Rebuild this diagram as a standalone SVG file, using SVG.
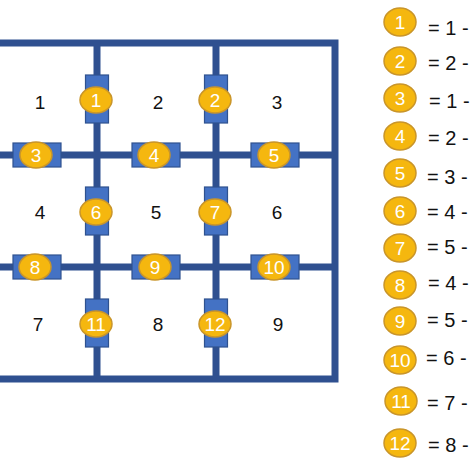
<svg xmlns="http://www.w3.org/2000/svg" width="474" height="474" viewBox="0 0 474 474">
<style>
.ln{stroke:#2F5090;stroke-width:7;fill:none}
.rc{fill:#4472C4;stroke:#2F528F;stroke-width:1.2}
.bd{fill:#F5B70F;stroke:#C9952A;stroke-width:1.5}
.bt{font-family:"Liberation Sans",Arial,sans-serif;font-size:19px;fill:#FFFFFF;text-anchor:middle}
.cn{font-family:"Liberation Sans",Arial,sans-serif;font-size:19px;fill:#111111;text-anchor:middle}
.lg{font-family:"Liberation Sans",Arial,sans-serif;font-size:20px;fill:#111111}
</style>
<rect width="474" height="474" fill="#FFFFFF"/>
<g id="connectors">
<rect class="ln" x="-22" y="43" width="357" height="336"/>
<line class="ln" x1="97" y1="43" x2="97" y2="379"/>
<line class="ln" x1="216" y1="43" x2="216" y2="379"/>
<line class="ln" x1="-22" y1="155" x2="335" y2="155"/>
<line class="ln" x1="-22" y1="267" x2="335" y2="267"/>
</g>
<g id="cells">
<text class="cn" x="40" y="109">1</text>
<text class="cn" x="158" y="109">2</text>
<text class="cn" x="277" y="109">3</text>
<text class="cn" x="40" y="219">4</text>
<text class="cn" x="156" y="219">5</text>
<text class="cn" x="277" y="219">6</text>
<text class="cn" x="38" y="331">7</text>
<text class="cn" x="158" y="331">8</text>
<text class="cn" x="278" y="331">9</text>
</g>
<g id="door1"><rect class="rc" x="85.5" y="75" width="23" height="48"/><ellipse class="bd" cx="96" cy="100" rx="16" ry="13"/><text class="bt" x="96" y="107">1</text></g>
<g id="door2"><rect class="rc" x="204.5" y="75" width="23" height="48"/><ellipse class="bd" cx="215" cy="100" rx="16" ry="13"/><text class="bt" x="215" y="107">2</text></g>
<g id="door3"><rect class="rc" x="13" y="143" width="48" height="24"/><ellipse class="bd" cx="36" cy="155" rx="16" ry="13"/><text class="bt" x="36" y="162">3</text></g>
<g id="door4"><rect class="rc" x="132" y="143" width="48" height="24"/><ellipse class="bd" cx="154" cy="155" rx="16" ry="13"/><text class="bt" x="154" y="162">4</text></g>
<g id="door5"><rect class="rc" x="251" y="143" width="48" height="24"/><ellipse class="bd" cx="274" cy="155" rx="16" ry="13"/><text class="bt" x="274" y="162">5</text></g>
<g id="door6"><rect class="rc" x="85.5" y="187" width="23" height="48"/><ellipse class="bd" cx="96" cy="212" rx="16" ry="13"/><text class="bt" x="96" y="219">6</text></g>
<g id="door7"><rect class="rc" x="204.5" y="187" width="23" height="48"/><ellipse class="bd" cx="215" cy="212" rx="16" ry="13"/><text class="bt" x="215" y="219">7</text></g>
<g id="door8"><rect class="rc" x="13" y="255" width="48" height="24"/><ellipse class="bd" cx="35" cy="267" rx="16" ry="13"/><text class="bt" x="35" y="274">8</text></g>
<g id="door9"><rect class="rc" x="132" y="255" width="48" height="24"/><ellipse class="bd" cx="155" cy="267" rx="16" ry="13"/><text class="bt" x="155" y="274">9</text></g>
<g id="door10"><rect class="rc" x="251" y="255" width="48" height="24"/><ellipse class="bd" cx="274" cy="267" rx="16" ry="13"/><text class="bt" x="274" y="274">10</text></g>
<g id="door11"><rect class="rc" x="85.5" y="299" width="23" height="48"/><ellipse class="bd" cx="96" cy="324" rx="16" ry="13"/><text class="bt" x="96" y="331">11</text></g>
<g id="door12"><rect class="rc" x="204.5" y="299" width="23" height="48"/><ellipse class="bd" cx="215" cy="324" rx="16" ry="13"/><text class="bt" x="215" y="331">12</text></g>
<g id="legend">
<ellipse class="bd" cx="400" cy="22" rx="16" ry="14"/><text class="bt" x="400" y="29">1</text><text class="lg" x="428" y="35">= 1 -</text>
<ellipse class="bd" cx="400" cy="61" rx="16" ry="14"/><text class="bt" x="400" y="68">2</text><text class="lg" x="428" y="70">= 2 -</text>
<ellipse class="bd" cx="400" cy="98" rx="16" ry="14"/><text class="bt" x="400" y="105">3</text><text class="lg" x="429" y="108">= 1 -</text>
<ellipse class="bd" cx="400" cy="136" rx="16" ry="14"/><text class="bt" x="400" y="143">4</text><text class="lg" x="428" y="145">= 2 -</text>
<ellipse class="bd" cx="400" cy="173" rx="16" ry="14"/><text class="bt" x="400" y="180">5</text><text class="lg" x="427" y="184">= 3 -</text>
<ellipse class="bd" cx="400" cy="211" rx="16" ry="14"/><text class="bt" x="400" y="218">6</text><text class="lg" x="427" y="219">= 4 -</text>
<ellipse class="bd" cx="400" cy="248" rx="16" ry="14"/><text class="bt" x="400" y="255">7</text><text class="lg" x="427" y="254">= 5 -</text>
<ellipse class="bd" cx="400" cy="285" rx="16" ry="14"/><text class="bt" x="400" y="292">8</text><text class="lg" x="428" y="290">= 4 -</text>
<ellipse class="bd" cx="400" cy="321" rx="16" ry="14"/><text class="bt" x="400" y="328">9</text><text class="lg" x="427" y="327">= 5 -</text>
<ellipse class="bd" cx="400" cy="360" rx="16" ry="14"/><text class="bt" x="400" y="367">10</text><text class="lg" x="426" y="365">= 6 -</text>
<ellipse class="bd" cx="401" cy="401" rx="16" ry="14"/><text class="bt" x="401" y="408">11</text><text class="lg" x="427" y="410">= 7 -</text>
<ellipse class="bd" cx="400" cy="443" rx="16" ry="14"/><text class="bt" x="400" y="450">12</text><text class="lg" x="428" y="452">= 8 -</text>
</g>
</svg>
